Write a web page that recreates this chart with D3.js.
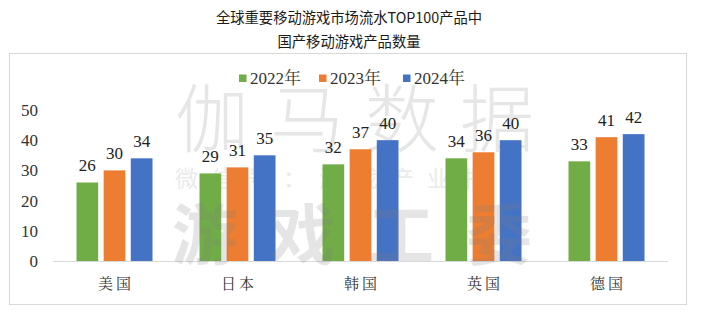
<!DOCTYPE html>
<html><head><meta charset="utf-8">
<script src="https://cdn.jsdelivr.net/npm/d3@7"></script>
<style>
html,body{margin:0;padding:0;background:#fff;}
svg{display:block;}
</style></head>
<body>
<svg id="chart" width="704" height="328"></svg>
<script>
const categories = ["美国","日本","韩国","英国","德国"];
const years = ["2022年","2023年","2024年"];
const values2022 = [26,29,32,34,33];
const values2023 = [30,31,37,36,41];
const values2024 = [34,35,40,40,42];
const yTicks = [0,10,20,30,40,50];
const colors = ["#70AD47","#ED7D31","#4472C4"];
const titleLines = ["全球重要移动游戏市场流水TOP100产品中","国产移动游戏产品数量"];

const series = [values2022, values2023, values2024];
const svg = d3.select("#chart");
const cjk = '"Noto Sans CJK SC","Noto Sans",sans-serif';
const serif = '"Liberation Serif","Noto Serif CJK SC",serif';
const cjkSerif = '"Noto Serif CJK SC","Liberation Serif",serif';

svg.append("rect").attr("width",704).attr("height",328).attr("fill","#fff");

// titles
svg.selectAll(".title").data(titleLines).join("text")
  .attr("x",349).attr("y",(d,i)=>23+i*24)
  .attr("text-anchor","middle").style("font-family",cjk).attr("font-size",14.3)
  .attr("fill","#1a1a1a").text(d=>d);

// frame
svg.append("rect").attr("x",9.5).attr("y",53.5).attr("width",677).attr("height",251)
  .attr("fill","#fff").attr("stroke","#d9d9d9").attr("stroke-width",1);

// watermarks behind
svg.append("text").attr("x",175).attr("y",146).style("font-family",cjk).attr("font-size",74)
  .attr("font-weight",300).attr("letter-spacing",21).attr("fill","#e6e6e6").text("伽马数据");
svg.append("text").attr("x",175).attr("y",187).style("font-family",cjk).attr("font-size",23)
  .attr("letter-spacing",13).attr("fill","#ebebeb").text("微信号：游戏产业报告");

const x0 = d3.scaleBand().domain(categories).range([53,668]);
const y = d3.scaleLinear().domain([0,50]).range([261,110]);

// y axis labels
const yAxis = d3.axisLeft(y).tickValues(yTicks).tickSize(0).tickPadding(0);
const ya = svg.append("g").attr("transform","translate(38,0)").call(yAxis);
ya.select(".domain").remove();
ya.selectAll("text").style("font-family",serif).attr("font-size",17).attr("fill","#333");

// x axis
const xAxis = d3.axisBottom(x0).tickSize(0).tickPadding(0);
const xa = svg.append("g").attr("transform","translate(0,261.5)").call(xAxis);
xa.select(".domain").attr("stroke","#d9d9d9").attr("d","M53,0H668");
xa.selectAll("text").style("font-family",cjkSerif).attr("font-size",15).attr("fill","#333")
  .attr("letter-spacing",3).attr("dx",1.5).attr("dy",0).attr("y",27);

// bars
const groups = svg.append("g").selectAll("g").data(categories).join("g")
  .attr("transform",d=>`translate(${x0(d)+x0.bandwidth()/2-38},0)`);
const x1 = d3.scaleBand().domain(years).range([0,76]).paddingInner(0.2);
groups.each(function(cat,ci){
  const g = d3.select(this);
  const data = years.map((yr,si)=>({yr,si,v:series[si][ci]}));
  g.selectAll("rect").data(data).join("rect")
    .attr("x",d=>x1(d.yr)).attr("width",x1.bandwidth())
    .attr("y",d=>y(d.v)).attr("height",d=>y(0)-y(d.v))
    .attr("fill",d=>colors[d.si]);
  g.selectAll("text").data(data).join("text")
    .style("font-family",serif)
    .attr("x",d=>x1(d.yr)+x1.bandwidth()/2).attr("y",d=>y(d.v)-11)
    .attr("text-anchor","middle").attr("font-size",17)
    .attr("fill","#222").text(d=>d.v);
});

// watermark on top
svg.append("text").attr("x",172).attr("y",259).style("font-family",cjk).attr("font-size",66)
  .attr("font-weight",700).attr("letter-spacing",32).attr("fill","#808080").attr("opacity",0.2).text("游戏工委");

// legend
const legendX = [239,319,403];
const lg = svg.append("g").selectAll("g").data(years).join("g")
  .attr("transform",(d,i)=>`translate(${legendX[i]},0)`);
lg.append("rect").attr("x",0).attr("y",74.5).attr("width",7.5).attr("height",7.5).attr("fill",(d,i)=>colors[i]);
lg.append("text").style("font-family",serif).attr("x",11).attr("y",84).attr("font-size",17)
  .attr("fill","#333").text(d=>d);
</script>
</body></html>
